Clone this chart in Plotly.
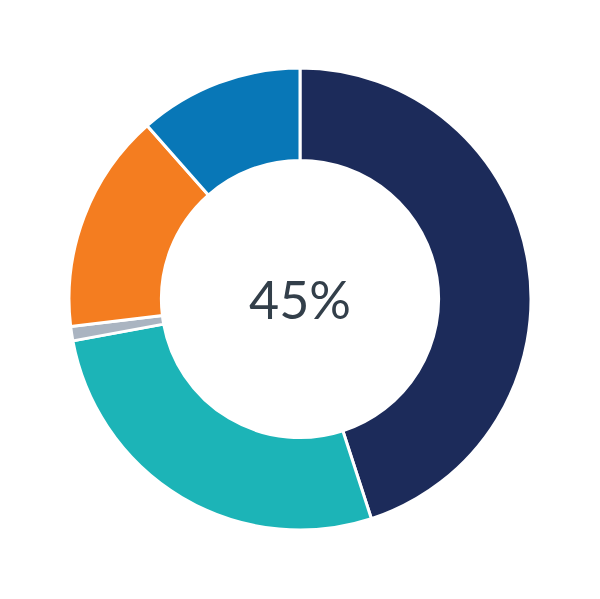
import plotly.graph_objects as go

labels = ["A", "B", "C", "D", "E"]
values = [45, 27.1, 1.0, 15.4, 11.5]
colors = ["#1c2b5a", "#1cb4b7", "#aab4c1", "#f47d20", "#0877b7"]
center_text = "45%"

fig = go.Figure(go.Pie(
    labels=labels, values=values, hole=0.6, sort=False,
    direction="clockwise", rotation=0,
    marker=dict(colors=colors, line=dict(color="white", width=3)),
    textinfo="none", hoverinfo="label+percent",
))
fig.update_layout(
    width=600, height=599, showlegend=False,
    margin=dict(l=61, r=77, t=60, b=77),
    paper_bgcolor="white",
    annotations=[dict(text=center_text, x=0.5, y=0.5, xref="paper", yref="paper",
                      showarrow=False, font=dict(family="Lato", size=52, color="#333f4a"))],
)
fig.write_html("out.html")
